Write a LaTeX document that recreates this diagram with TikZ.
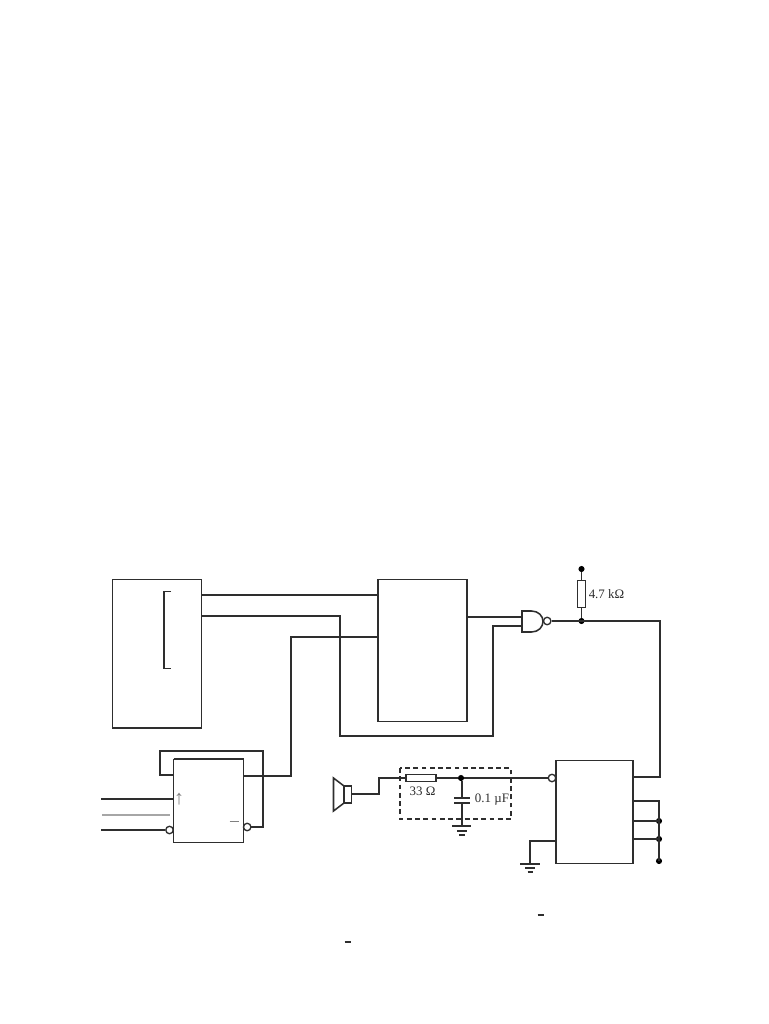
\documentclass[tikz,border=0pt]{standalone}
\usepackage{fontspec}
\setmainfont{Liberation Serif}
\definecolor{ink}{HTML}{2E2E2E}
\begin{document}
\begin{tikzpicture}[x=0.75pt,y=-0.75pt,
  wire/.style={draw=ink,line width=1pt,line join=miter},
  boxshape/.style={draw=ink,line width=0.9pt,fill=none,inner sep=0pt,outer sep=0pt,anchor=north west},
  bubble/.style={circle,draw=ink,line width=1pt,fill=white,minimum size=5.6pt,inner sep=0pt},
  junction/.style={circle,fill=black,minimum size=4.6pt,inner sep=0pt},
  lbl/.style={inner sep=0pt,font=\fontsize{9.7pt}{11pt}\selectfont,text=ink},
  groundbar/.style={draw=ink,line width=1pt}]
\useasboundingbox (0,0) rectangle (768,1024);
\fill[white] (0,0) rectangle (768,1024);

% boxes
\node[boxshape,minimum width=66.75pt,minimum height=111.4pt] (mem) at (112.5,579.5) {};
\node[boxshape,minimum width=66.75pt,minimum height=106.5pt] (dec) at (378,579.5) {};
\node[boxshape,minimum width=52.5pt,minimum height=62.25pt] (ff) at (173.5,759.5) {};
\node[boxshape,minimum width=57.75pt,minimum height=77.25pt] (ic) at (556,760.5) {};
\draw[ink,line width=1.1pt] (556,760.5) -- (556,863.5);
\draw[ink,line width=1.1pt] (173.5,759) -- (243.5,759);

% bracket in memory box
\coordinate (brA) at (171,591.5);
\coordinate (brB) at (164,591.5);
\coordinate (brC) at (164,668.5);
\coordinate (brD) at (171,668.5);
\draw[wire] (brA) -- (brB) -- (brC) -- (brD);

% pins
\coordinate (m1) at (mem.north east |- 0,595);
\coordinate (d1) at (dec.north west |- 0,595);
\coordinate (m2) at (mem.north east |- 0,616);
\coordinate (t1) at (340,616);
\coordinate (t2) at (340,736);
\coordinate (t3) at (493,736);
\coordinate (t4) at (493,626);
\coordinate (d2) at (dec.north west |- 0,637);
\coordinate (u1) at (291,637);
\coordinate (u2) at (291,776);
\coordinate (f1) at (ff.north east |- 0,776);
\coordinate (fb1) at (ff.north west |- 0,775);
\coordinate (fb2) at (160,775);
\coordinate (fb3) at (160,751);
\coordinate (fb4) at (263,751);
\coordinate (fb5) at (263,827);

\draw[wire] (m1) -- (d1);
\draw[wire] (m2) -- (t1) -- (t2) -- (t3) -- (t4) -- (522,626);
\draw[wire] (d2) -- (u1) -- (u2) -- (f1);
\draw[wire] (fb1) -- (fb2) -- (fb3) -- (fb4) -- (fb5) -- (250,827);

% flip-flop inputs
\coordinate (i1) at (101,799);
\coordinate (i1e) at (ff.north west |- 0,799);
\coordinate (i2) at (102,815);
\coordinate (i2e) at (170,815);
\coordinate (i3) at (101,830);
\node[bubble] (clkb) at (169.5,830) {};
\node[bubble] (qb) at (247.2,827) {};
\draw[wire] (i1) -- (i1e);
\draw[draw=black!35,line width=0.9pt] (i2) -- (i2e);
\draw[wire] (i3) -- (clkb);
\node[inner sep=0pt,text=black!50,font=\fontsize{15pt}{16pt}\selectfont] (clk) at (179,799.5) {↑};
\draw[draw=black!50,line width=0.8pt] (229.5,821.5) -- (239,821.5);

% NAND gate
\coordinate (nandA) at (522,611);
\coordinate (nandB) at (522,632);
\draw[ink,line width=1.15pt,fill=white] (nandA) -- (531.5,611) .. controls (538.5,611) and (543,616) .. (543,621.4) .. controls (543,627) and (538.5,632) .. (531.5,632) -- (nandB) -- cycle;
\node[bubble] (nb) at (547.2,621) {};
\coordinate (dOut) at (dec.north east |- 0,617);
\coordinate (nIn) at (522,617);
\draw[wire] (dOut) -- (nIn);

% output net and pull-up
\node[junction] (j1) at (581.5,621) {};
\node[junction] (vcc) at (581.5,569) {};
\node[draw=ink,line width=1pt,fill=white,minimum width=6pt,minimum height=20.25pt,inner sep=0pt] (r1) at (581.5,594) {};
\coordinate (c1) at (660,621);
\coordinate (c2) at (660,777);
\coordinate (c3) at (ic.north east |- 0,777);
\draw[wire] (nb.east) -- (c1) -- (c2) -- (c3);
\draw[wire] (vcc) -- (r1);
\draw[wire] (r1) -- (j1);
\node[lbl,anchor=west] (r1l) at (588.5,594) {4.7 kΩ};

% speaker
\coordinate (s1) at (333.5,778);
\coordinate (s2) at (344,786);
\coordinate (s3) at (344,803);
\coordinate (s4) at (333.5,811);
\draw[ink,line width=1.15pt,line join=miter] (s1) -- (s2) -- (s3) -- (s4) -- cycle;
\node[draw=ink,line width=1.15pt,minimum width=5.5pt,minimum height=12.75pt,inner sep=0pt] (spk) at (348,794.5) {};
\coordinate (w1) at (379,794);
\coordinate (w2) at (379,778);

% RC filter
\node[draw=ink,line width=1pt,fill=white,minimum width=22.5pt,minimum height=5.25pt,inner sep=0pt] (r2) at (421,778) {};
\node[junction] (j2) at (461,778) {};
\node[bubble] (icb) at (552,778) {};
\draw[wire] (spk.east |- 0,794) -- (w1) -- (w2) -- (r2);
\draw[wire] (r2) -- (j2) -- (icb);
\draw[ink,line width=1pt,dash pattern=on 3.6pt off 2.6pt] (400,768) rectangle (511,819);
\node[lbl] (r2l) at (422.5,791.5) {33 Ω};
\node[lbl] (c1l) at (492,800) {0.1 µF};

% capacitor and ground
\coordinate (capT) at (462,798);
\coordinate (capB) at (462,803);
\coordinate (gnd1) at (462,826);
\draw[wire] (j2.south -| capT) -- (capT);
\draw[wire] (capB) -- (gnd1);
\draw[ink,line width=1pt] (454.3,798) -- (469.7,798) (454.3,803) -- (469.7,803);
\draw[groundbar] (452.3,826) -- (471,826) (457,831) -- (466.5,831) (459,835) -- (464.5,835);

% IC ground
\coordinate (g1) at (ic.north west |- 0,841);
\coordinate (g2) at (530,841);
\coordinate (g3) at (530,864);
\draw[wire] (g1) -- (g2) -- (g3);
\draw[groundbar] (520.3,864) -- (539.7,864) (525.3,868) -- (534.7,868) (527.5,872) -- (532.5,872);

% IC right side
\coordinate (p1) at (ic.north east |- 0,801);
\coordinate (p1c) at (659,801);
\node[junction] (j3) at (659,821) {};
\node[junction] (j4) at (659,839) {};
\node[junction] (j5) at (659,861) {};
\coordinate (p2) at (ic.north east |- j3);
\coordinate (p3) at (ic.north east |- j4);
\draw[wire] (p1) -- (p1c) -- (j5.center);
\draw[wire] (p2) -- (j3.center);
\draw[wire] (p3) -- (j4.center);

% small overbars
\draw[ink,line width=0.8pt] (537.7,915) -- (544.3,915);
\draw[ink,line width=0.8pt] (344.7,942) -- (351.3,942);
\end{tikzpicture}
\end{document}
